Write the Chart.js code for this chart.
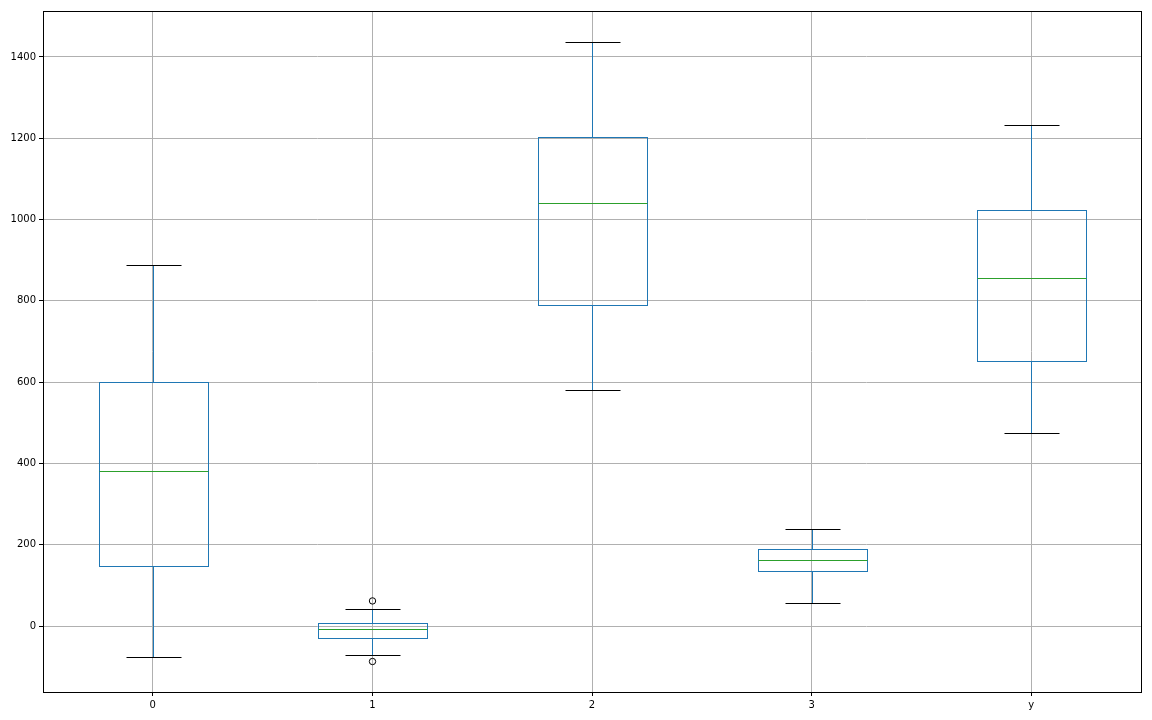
<!DOCTYPE html>
<html>
<head>
<meta charset="utf-8">
<script src="https://cdn.jsdelivr.net/npm/chart.js@4.4.1/dist/chart.umd.min.js"></script>
<style>
  html, body { margin: 0; padding: 0; background: #fff; }
  #wrap { width: 1152px; height: 720px; }
</style>
</head>
<body>
<div id="wrap"><canvas id="box" width="1152" height="720"></canvas></div>
<script>
'use strict';
// Boxplot (style pandas/matplotlib) : boîte Q1–Q3 en barre flottante,
// contours / moustaches / médianes / aberrants tracés via les échelles Chart.js.

const categories  = ['0', '1', '2', '3', 'y'];
const whiskerLow  = [-75, -70, 582, 56, 474];
const q1          = [147, -30, 790, 135, 651];
const medians     = [381, -8, 1040, 162, 856];
const q3          = [600, 7, 1204, 189, 1023];
const whiskerHigh = [888, 41, 1436, 238, 1232];
const outliers    = [[], [62, -87], [], [], []];
const yTicks      = [0, 200, 400, 600, 800, 1000, 1200, 1400];
const yMin = -162, yMax = 1513;

const BLUE = '#1f77b4', GREEN = '#2ca02c', GRID = '#b0b0b0';
const FONT = { family: 'DejaVu Sans', size: 10 };
const px = v => Math.round(v) + 0.5;

const boxParts = {
  id: 'boxParts',
  afterDatasetsDraw(chart) {
    const { ctx } = chart, xs = chart.scales.x, ys = chart.scales.y;
    const bars = chart.getDatasetMeta(0).data;
    ctx.save();
    ctx.lineWidth = 1;
    const line = (x1, y1, x2, y2, col) => { ctx.strokeStyle = col; ctx.beginPath(); ctx.moveTo(x1, y1); ctx.lineTo(x2, y2); ctx.stroke(); };
    categories.forEach((c, i) => {
      const x = px(xs.getPixelForValue(i));
      const w = bars[i].width, capHalf = w / 4;
      const xl = px(x - w / 2), xr = px(x + w / 2);
      const yq1 = px(ys.getPixelForValue(q1[i])), yq3 = px(ys.getPixelForValue(q3[i]));
      // boîte
      ctx.strokeStyle = BLUE;
      ctx.strokeRect(xl, yq3, xr - xl, yq1 - yq3);
      // moustaches
      const yh = px(ys.getPixelForValue(whiskerHigh[i])), yl = px(ys.getPixelForValue(whiskerLow[i]));
      line(x, yq3, x, yh, BLUE);
      line(x, yq1, x, yl, BLUE);
      // capuchons
      line(px(x - capHalf), yh, px(x + capHalf), yh, '#000');
      line(px(x - capHalf), yl, px(x + capHalf), yl, '#000');
      // médiane
      const ym = px(ys.getPixelForValue(medians[i]));
      line(xl, ym, xr, ym, GREEN);
      // aberrants
      outliers[i].forEach(v => {
        ctx.strokeStyle = '#000';
        ctx.beginPath(); ctx.arc(x, ys.getPixelForValue(v), 3.2, 0, Math.PI * 2); ctx.stroke();
      });
    });
    ctx.restore();
  },
  afterDraw(chart) {
    const { ctx, chartArea: a } = chart;
    ctx.save();
    ctx.strokeStyle = '#000'; ctx.lineWidth = 1;
    ctx.strokeRect(px(a.left), px(a.top), Math.round(a.right - a.left), Math.round(a.bottom - a.top));
    ctx.restore();
  },
};

new Chart(document.getElementById('box').getContext('2d'), {
  type: 'bar',
  data: {
    labels: categories,
    datasets: [{
      data: categories.map((c, i) => [q1[i], q3[i]]),
      backgroundColor: 'transparent',
      borderWidth: 0,
      barPercentage: 0.5,
      categoryPercentage: 1,
    }],
  },
  options: {
    responsive: false, animation: false, devicePixelRatio: 1,
    layout: { padding: { top: 11, right: 11, left: 0, bottom: 0 } },
    plugins: { legend: { display: false }, tooltip: { enabled: false } },
    scales: {
      x: {
        offset: true,
        grid: { offset: false, color: GRID, lineWidth: 1, tickLength: 4, tickColor: '#000' },
        border: { display: false },
        ticks: { color: '#000', font: FONT, padding: 3, maxRotation: 0 },
        afterFit: s => { s.height = 28; },
      },
      y: {
        min: yMin, max: yMax,
        afterBuildTicks: s => { s.ticks = yTicks.map(v => ({ value: v })); },
        grid: { color: GRID, lineWidth: 1, tickLength: 4, tickColor: '#000' },
        border: { display: false },
        ticks: { color: '#000', font: FONT, padding: 3, callback: v => String(v) },
        afterFit: s => { s.width = 43; },
      },
    },
  },
  plugins: [boxParts],
});
</script>
</body>
</html>
